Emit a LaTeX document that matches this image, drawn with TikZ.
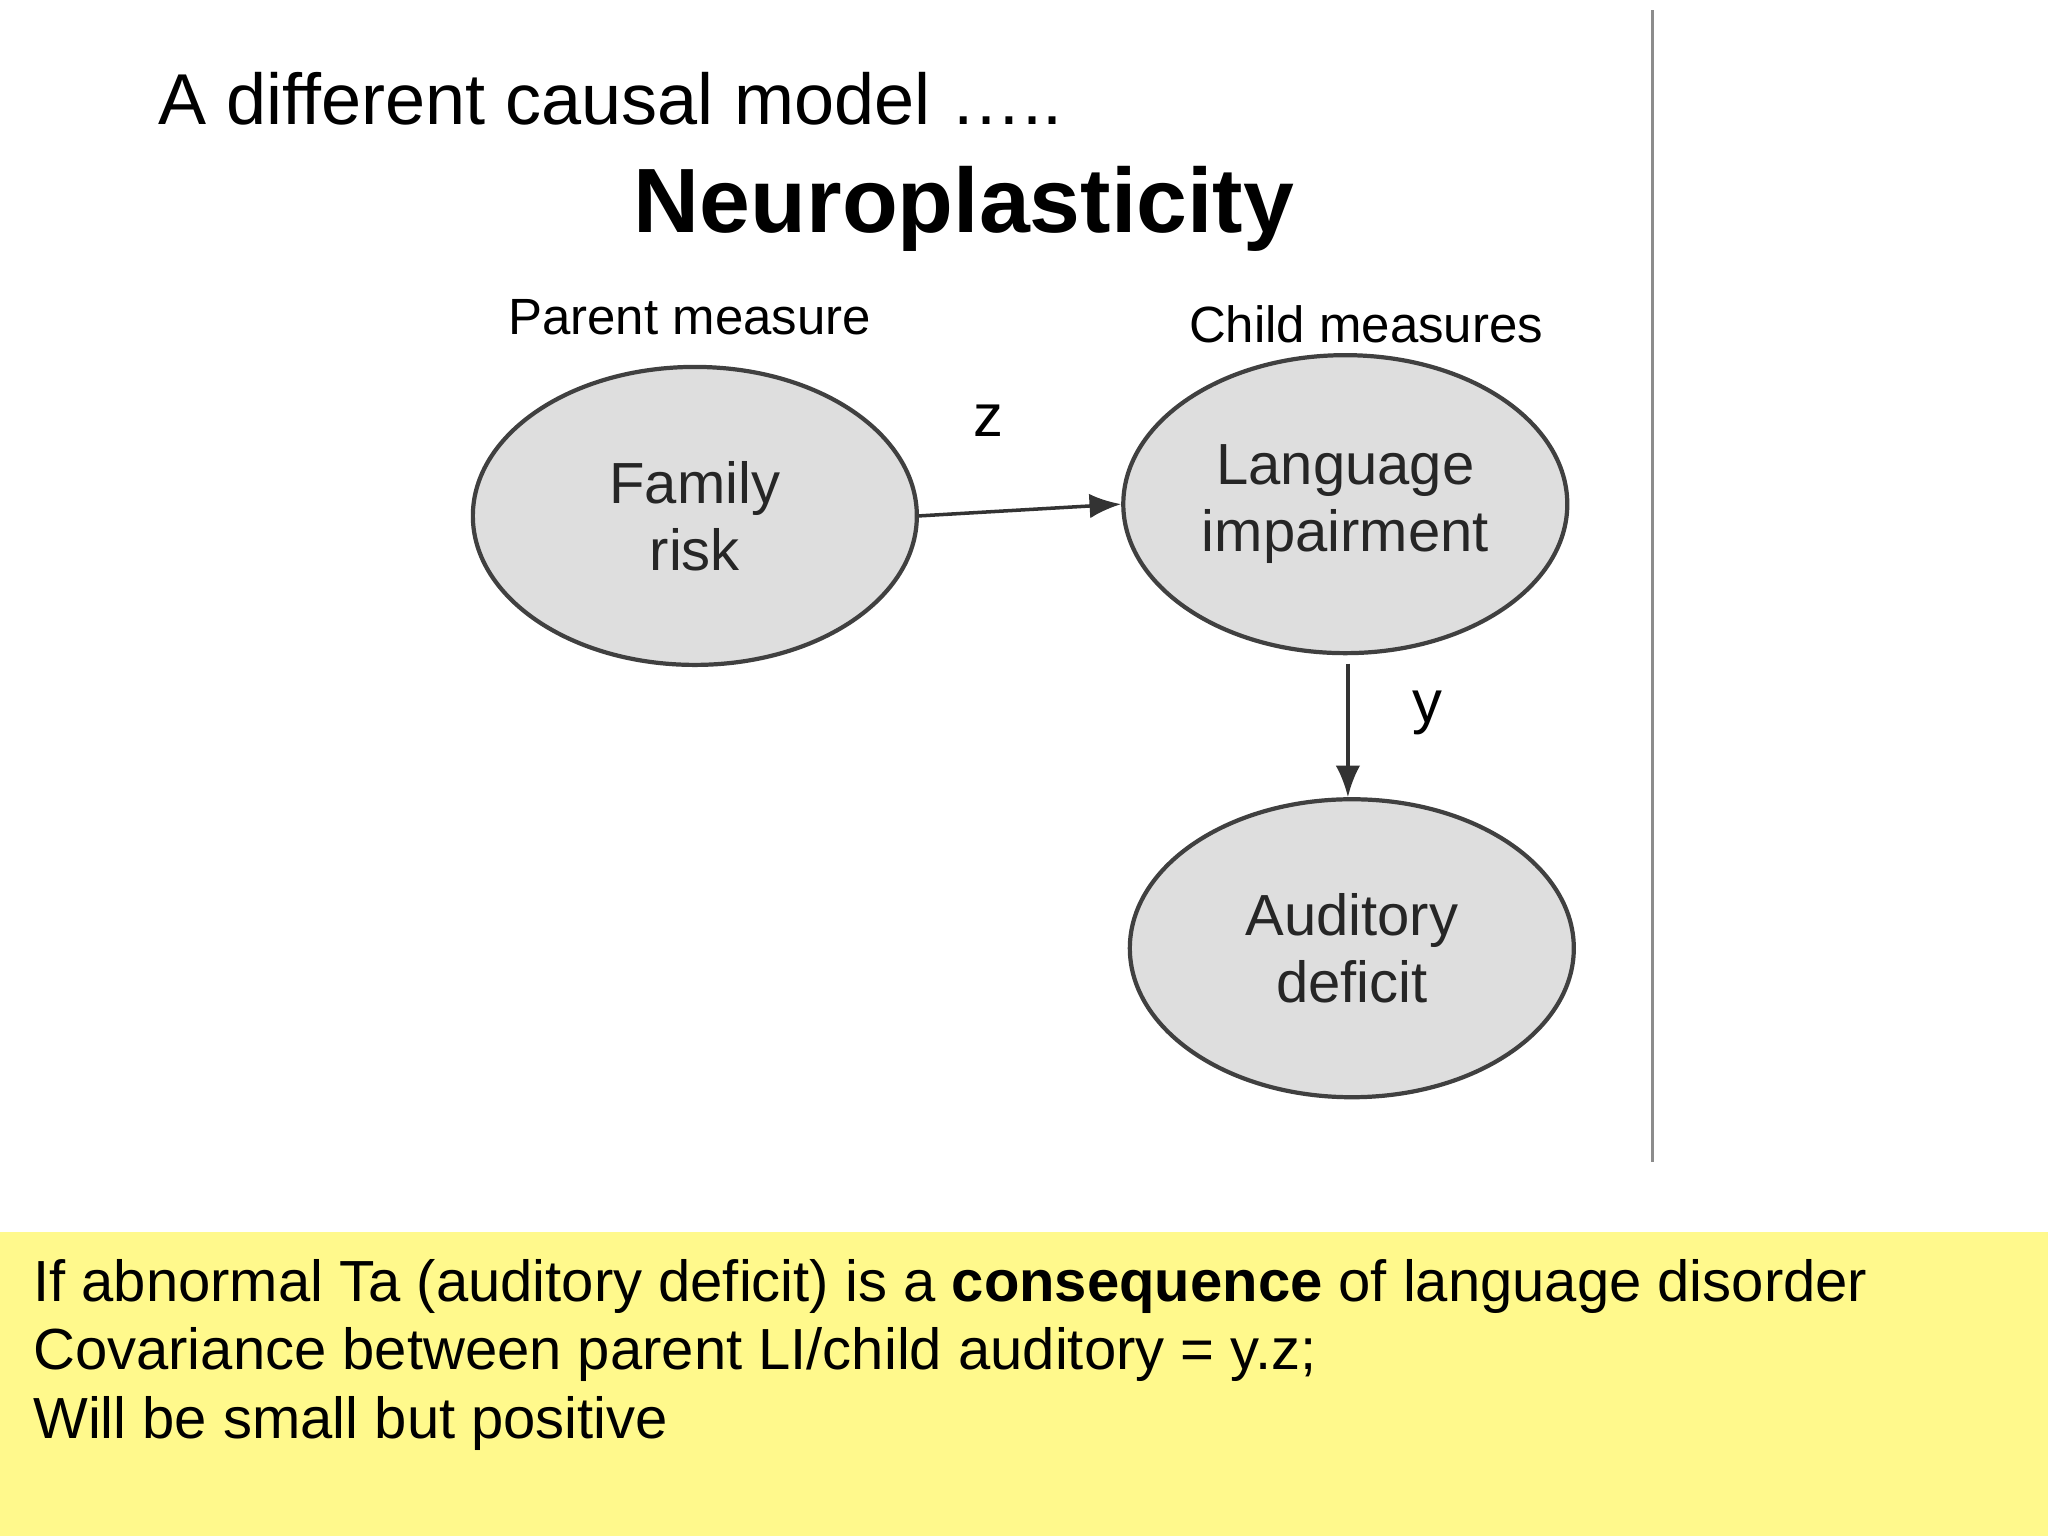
\documentclass[tikz,border=0pt]{standalone}
\usepackage{fontspec}
\setmainfont{Liberation Sans}
\usetikzlibrary{shapes.geometric,arrows.meta}
\begin{document}
\begin{tikzpicture}[x=0.01306cm,y=-0.01306cm,
  ell/.style={ellipse,draw=black!75,line width=1.2pt,fill=black!13,minimum width=340\pgflinewidth*0+4.44cm,minimum height=2.98cm,align=center,font=\fontsize{16.5}{19}\selectfont,text=black!85},
  lab/.style={font=\fontsize{14.5}{17}\selectfont},
  arr/.style={-{Latex[length=9pt,width=7pt]},line width=1pt,black!80}]
\useasboundingbox (0,0) rectangle (1568,1176);
\fill[white] (0,0) rectangle (1568,1176);
\fill[yellow!45!white] (0,943) rectangle (1568,1176);
\draw[black!45,line width=0.8pt] (1265,8) -- (1265,890);
\node[anchor=base west,font=\fontsize{20.5}{24}\selectfont] (title) at (112,95) {A different causal model …..};
\node[font=\fontsize{26}{30}\selectfont\bfseries] (neuro) at (738,160) {Neuroplasticity};
\node[lab] (pm) at (528,243) {Parent measure};
\node[lab] (cm) at (1046,248) {Child measures};
\node[ell] (fr) at (532,395) {Family\\risk};
\node[ell] (li) at (1030,386) {Language\\impairment};
\node[ell] (ad) at (1035,726) {Auditory\\deficit};
\draw[arr] (fr.east) -- (li.west);
\node[lab,font=\fontsize{17}{20}\selectfont] (z) at (757,322) {z};
\coordinate (ys) at (1032,508);
\draw[arr] (ys) -- (ad.north -| ys);
\node[lab,font=\fontsize{17}{20}\selectfont] (y) at (1093,546) {y};
\node[anchor=north west,align=left,font=\fontsize{16.5}{19.4}\selectfont] (txt) at (16,955)
 {If abnormal Ta (auditory deficit) is a \textbf{consequence} of language disorder\\
  Covariance between parent LI/child auditory = y.z;\\
  Will be small but positive};
\end{tikzpicture}
\end{document}
